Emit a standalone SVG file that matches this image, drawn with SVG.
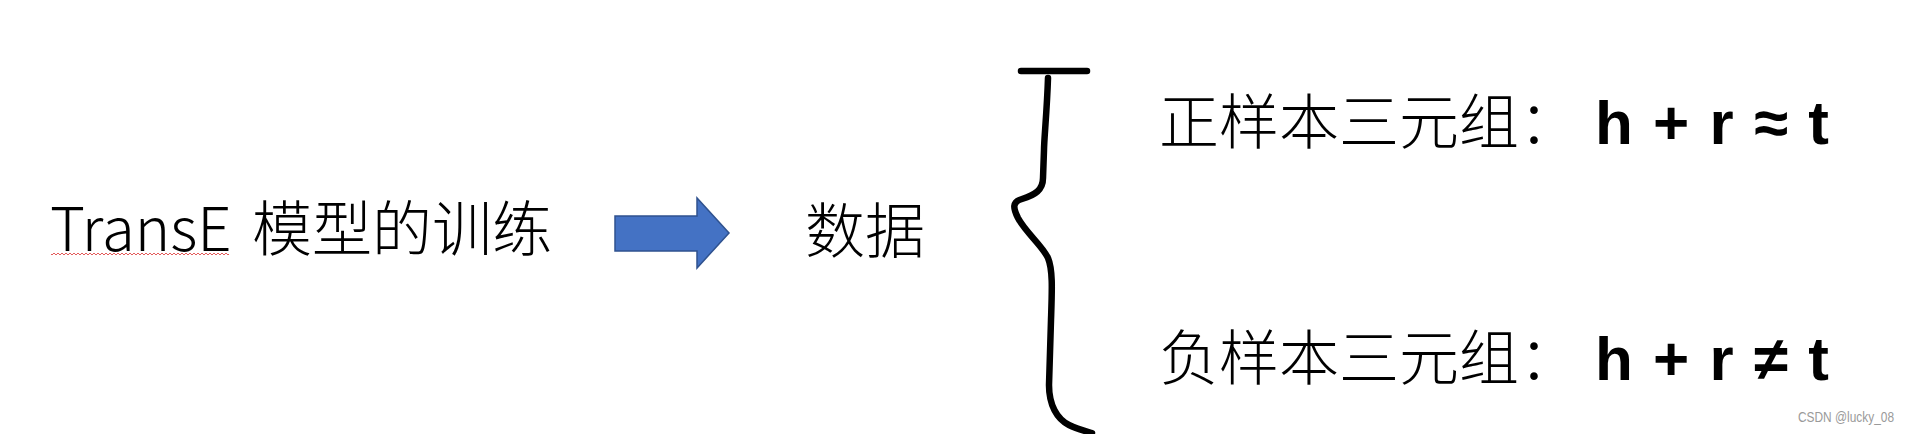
<svg xmlns="http://www.w3.org/2000/svg" width="1917" height="434" viewBox="0 0 1917 434">
  <defs>
    <style>
      .cjk { font-family: "Noto Sans CJK SC", "Noto Sans", sans-serif; font-size: 60px; font-weight: 300; fill: #000; }
      .formula { font-family: "Liberation Sans", Arial, sans-serif; font-weight: bold; font-size: 62px; word-spacing: 3px; }
      .brace { fill: none; stroke: #000; stroke-width: 6.5; stroke-linecap: round; stroke-linejoin: round; }
      .wm { font-family: "Liberation Sans", Arial, sans-serif; font-size: 14px; fill: #9a9a9a; }
    </style>
    <pattern id="squiggle" width="4" height="4" patternUnits="userSpaceOnUse">
      <path d="M0,3 L2,1 L4,3" fill="none" stroke="#e04848" stroke-width="0.9"/>
    </pattern>
  </defs>
  <rect width="1917" height="434" fill="#ffffff"/>

  <g id="node-transe">
    <text class="cjk" x="50" y="251">TransE<tspan x="252">模型的训练</tspan></text>
    <rect x="51" y="252" width="178" height="4" fill="url(#squiggle)"/>
  </g>

  <g id="node-data">
    <text class="cjk" x="805" y="253">数据</text>
  </g>

  <g id="node-positive">
    <text class="cjk" x="1159" y="144">正样本三元组：<tspan class="formula" x="1595">h + r ≈ t</tspan></text>
  </g>

  <g id="node-negative">
    <text class="cjk" x="1159" y="380">负样本三元组：<tspan class="formula" x="1595">h + r ≠ t</tspan></text>
  </g>

  <g id="connectors">
    <polygon points="615,216 697,216 697,198 729,233 697,268 697,251 615,251" fill="#4472C4" stroke="#2F528F" stroke-width="1.5"/>
    <path class="brace" d="M1021,71 L1087,71"/>
    <path class="brace" d="M1048,78 C1047,110 1044,140 1044,150 L1043,178 C1043,190 1035,195 1022,199 C1012,202 1013,208 1018,218 C1026,233 1042,245 1048,258 C1053,270 1052,290 1051,320 L1049,385 C1049,405 1057,419 1069,425 C1077,429 1085,431 1092,433"/>
  </g>

  <text class="wm" x="1798" y="422" textLength="96" lengthAdjust="spacingAndGlyphs">CSDN @lucky_08</text>
</svg>
